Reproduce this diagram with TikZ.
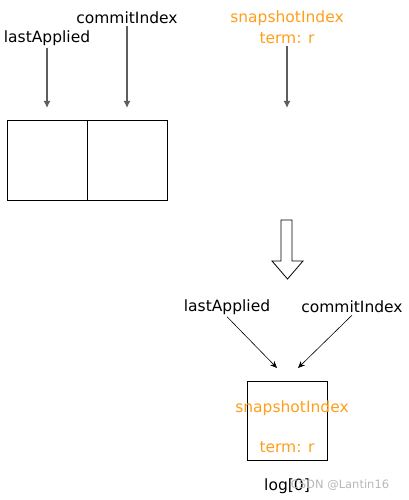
\documentclass[tikz,border=0pt]{standalone}
\usepackage{fontspec}
\setmainfont{DejaVu Sans}
\usepackage{tikz}
\usetikzlibrary{arrows.meta,positioning}
\definecolor{snaporange}{HTML}{FF9E1B}
\definecolor{arrowgrey}{HTML}{5E5E5E}
\definecolor{markgrey}{HTML}{B8B8B8}

\tikzset{
  lbl/.style={font=\fontsize{15.5}{17}\selectfont,inner sep=2pt},
  snaplbl/.style={lbl,text=snaporange},
  cell/.style={draw,thick,minimum width=80pt,minimum height=80pt,inner sep=0pt},
  ptr/.style={-{Latex[length=7pt,width=7pt]},arrowgrey,line width=1.5pt},
  thinptr/.style={-{Stealth[length=7pt,width=6pt]},line width=0.6pt}
}

\begin{document}
\begin{tikzpicture}[x=1pt,y=-1pt]
  \useasboundingbox (0,0) rectangle (408,500);
  % before: two log cells
  \node[cell] (cellA) at (47,160) {};
  \node[cell] (cellB) at (127,160) {};
  \node[lbl] (applied) at (47,38) {lastApplied};
  \node[lbl] (commit) at (127,18) {commitIndex};
  \node[snaplbl] (snap) at (287,18) {snapshotIndex};
  \node[snaplbl] (snapterm) at (287,38) {term: r};
  \coordinate (appliedTip) at (47,108);
  \coordinate (commitTip) at (127,108);
  \coordinate (snapTip) at (287,108);
  \draw[ptr] (applied.south) -- (appliedTip);
  \draw[ptr] (commit.south) -- (commitTip);
  \draw[ptr] (snapterm.south) -- (snapTip);
  % hollow arrow
  \draw[thick,fill=white] (281,220) -- (292,220) -- (292,261) -- (303,261) -- (287.5,279)
    -- (272,261) -- (281,261) -- cycle;
  % after: log[0] holds the snapshot
  \node[cell,minimum height=79pt] (logzero) at (287,420.5) {};
  \node[snaplbl] (zeroIndex) at (292,408) {snapshotIndex};
  \node[snaplbl] (zeroTerm) at (287,447) {term: r};
  \node[lbl] (zeroName) at (287,486) {log[0]};
  \node[lbl,font=\fontsize{11.5}{14}\selectfont,text=markgrey] (mark) at (340,485) {CSDN @Lantin16};
  \node[lbl] (applied2) at (227,307) {lastApplied};
  \node[lbl] (commit2) at (352,307) {commitIndex};
  \coordinate (applied2Tip) at (277,368);
  \coordinate (commit2Tip) at (298,368);
  \draw[thinptr] (applied2.south) -- (applied2Tip);
  \draw[thinptr] (commit2.south) -- (commit2Tip);
\end{tikzpicture}
\end{document}
